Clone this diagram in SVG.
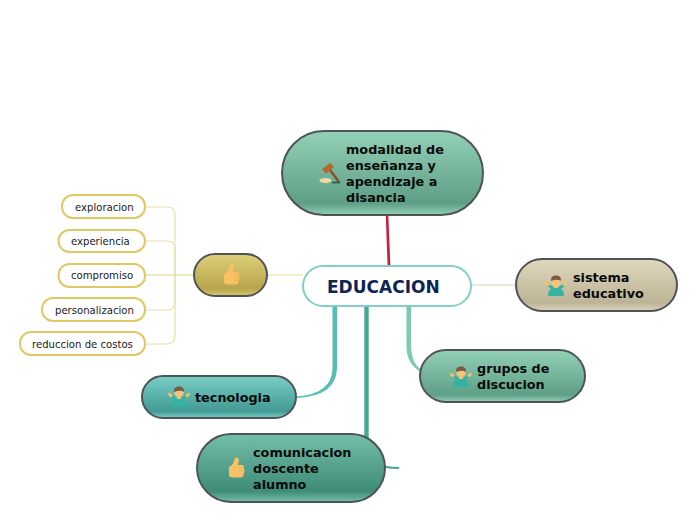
<svg xmlns="http://www.w3.org/2000/svg" width="696" height="520" viewBox="0 0 696 520">
<style>
text{font-family:"DejaVu Sans","Liberation Sans",sans-serif}
.t{font-size:12.800px;font-weight:700;fill:#0a0a0a}
.l{font-size:10.100px;fill:#1a1a1a}
.r{font-size:17px;font-weight:700;fill:#0b2559}
.n{stroke:#4d5356;stroke-width:2}
.leaf{fill:#fff;stroke:#e0c965;stroke-width:2}
.y{fill:none;stroke:#e9dfa9;stroke-width:1.200}
.skin{fill:#f8c163}
.shirt{fill:#35b3a0}
.hair{fill:#7a5a45}
.face{fill:#f3c27c}
</style>
<defs>
<linearGradient id="gG" x1="0" y1="0" x2="0" y2="1"><stop offset="0" stop-color="#93d1b7"/><stop offset=".86" stop-color="#5f9f86"/><stop offset="1" stop-color="#93d1b7"/></linearGradient>
<linearGradient id="gY" x1="0" y1="0" x2="0" y2="1"><stop offset="0" stop-color="#dfcf7a"/><stop offset=".82" stop-color="#b6a54b"/><stop offset="1" stop-color="#d6c771"/></linearGradient>
<linearGradient id="gB" x1="0" y1="0" x2="0" y2="1"><stop offset="0" stop-color="#e0d9bf"/><stop offset=".84" stop-color="#bdb395"/><stop offset="1" stop-color="#dbd4ba"/></linearGradient>
<linearGradient id="gT" x1="0" y1="0" x2="0" y2="1"><stop offset="0" stop-color="#79cfc6"/><stop offset=".84" stop-color="#439a94"/><stop offset="1" stop-color="#79cfc6"/></linearGradient>
<linearGradient id="gD" x1="0" y1="0" x2="0" y2="1"><stop offset="0" stop-color="#74bfa9"/><stop offset=".84" stop-color="#3e8b78"/><stop offset="1" stop-color="#74bfa9"/></linearGradient>
<g id="thumb"><path class="skin" d="M-7 -1 Q-3 -3 -2 -7 L-1 -10 Q1 -11.500 2.500 -9.500 Q3.500 -7 2 -3 L6.500 -3 Q8.500 -2.500 8 0 Q9 3 8 5 Q7.500 9.500 5 9.500 L-3 9.500 Q-6 9.500 -7 8 Z"/><path d="M3 0H8M3 3H8M3 6H7.500" stroke="#e8a94a" stroke-width=".7" fill="none"/></g>
<g id="man"><path class="shirt" d="M-8 10 Q-8 3 -3 2 L3 2 Q8 3 8 10Z"/><path d="M-8 -1 L-2 3 L4 6 M8 -1 L2 3 L-4 6" stroke="#35b3a0" stroke-width="3" fill="none"/><path d="M-10.500 -3.500 L-7 -.500 M10.500 -3.500 L7 -.500" stroke="#f8c163" stroke-width="2.600"/><rect class="face" x="-2" y="-1" width="4" height="3"/><circle class="face" cx="0" cy="-4.500" r="4.800"/><path class="hair" d="M-5 -5 Q-5.500 -10.500 0 -10.500 Q5.500 -10.500 5 -5 Q2 -7.500 -5 -5Z"/></g>
</defs>
<g id="connectors">
<path d="M385.700 214 L388.300 214 L390.400 266 L387.600 266Z" fill="#c8213c"/>
<path d="M471 284V286H516V284Z" fill="#ece8d8"/>
<path d="M267 275H303" stroke="#e6dba3" stroke-width="1" fill="none"/>
<path d="M332.500 306H337V368Q336.500 396 297 398V396.500Q332 394 332.500 368Z" fill="#55bdb2"/>
<path d="M364.300 306H368.700V445Q368.500 467 399 467V469Q364.300 469 364.300 445Z" fill="#45a893"/>
<path d="M406.500 306H411V345Q411.500 364 421 369V372Q406 364 406.500 345Z" fill="#7bcbae"/>
<path class="y" d="M146 207H167Q175 207 175 215V336Q175 344 167 344H146"/>
<path class="y" d="M146 241H167Q175 241 175 249V302Q175 310 167 310H146" stroke-width="1.500"/>
<path d="M146 275H194" stroke="#e3d282" stroke-width="1.200" fill="none"/>
</g>
<g id="node-modalidad">
<rect class="n" x="282" y="131" width="201" height="84" rx="42" fill="url(#gG)"/>
<path d="M330 170 L339 182" stroke="#8a4f25" stroke-width="2.400"/><path d="M324 171.500 L332 165" stroke="#b06a2f" stroke-width="6"/><ellipse cx="325.500" cy="180.500" rx="6" ry="2.500" fill="#f0d9a0"/><path d="M332 182.500H340" stroke="#2f5a50" stroke-width="1.800"/>
<text class="t" x="346" y="154">modalidad de</text>
<text class="t" x="346" y="170">enseñanza y</text>
<text class="t" x="346" y="186">apendizaje a</text>
<text class="t" x="346" y="202">disancia</text>
</g>
<g id="node-educacion">
<rect x="303" y="266" width="168" height="40" rx="20" fill="#fff" stroke="#80d0c6" stroke-width="2"/>
<text class="r" x="327" y="293">EDUCACION</text>
</g>
<g id="node-sistema">
<rect class="n" x="516" y="259" width="161" height="52" rx="26" fill="url(#gB)"/>
<use href="#man" x="556" y="286"/>
<text class="t" x="573" y="282">sistema</text>
<text class="t" x="573" y="298">educativo</text>
</g>
<g id="node-grupos">
<rect class="n" x="420" y="350" width="165" height="52" rx="26" fill="url(#gG)"/>
<use href="#man" x="461" y="377"/>
<text class="t" x="477" y="373">grupos de</text>
<text class="t" x="477" y="389">discucion</text>
</g>
<g id="node-tecnologia">
<rect class="n" x="142" y="376" width="154" height="42" rx="21" fill="url(#gT)"/>
<use href="#man" x="179" y="397"/>
<text class="t" x="195" y="402">tecnologia</text>
</g>
<g id="node-comunicacion">
<rect class="n" x="197" y="434" width="188" height="68" rx="34" fill="url(#gD)"/>
<use href="#thumb" x="236" y="468"/>
<text class="t" x="253" y="457">comunicacion</text>
<text class="t" x="253" y="473">doscente</text>
<text class="t" x="253" y="489">alumno</text>
</g>
<g id="node-apoyo">
<rect class="n" x="194" y="254" width="73" height="42" rx="21" fill="url(#gY)"/>
<use href="#thumb" x="231" y="275"/>
</g>
<g id="leaf-exploracion"><rect class="leaf" x="62" y="195" width="83" height="23" rx="11"/><text class="l" x="75" y="211">exploracion</text></g>
<g id="leaf-experiencia"><rect class="leaf" x="58.500" y="230" width="86.500" height="22" rx="11"/><text class="l" x="71" y="245">experiencia</text></g>
<g id="leaf-compromiso"><rect class="leaf" x="58.500" y="264" width="86.500" height="23" rx="11"/><text class="l" x="71" y="279">compromiso</text></g>
<g id="leaf-personalizacion"><rect class="leaf" x="42" y="298" width="103" height="23" rx="11"/><text class="l" x="55" y="314">personalizacion</text></g>
<g id="leaf-reduccion"><rect class="leaf" x="20" y="332" width="125" height="23" rx="11"/><text class="l" x="32" y="348">reduccion de costos</text></g>
</svg>
